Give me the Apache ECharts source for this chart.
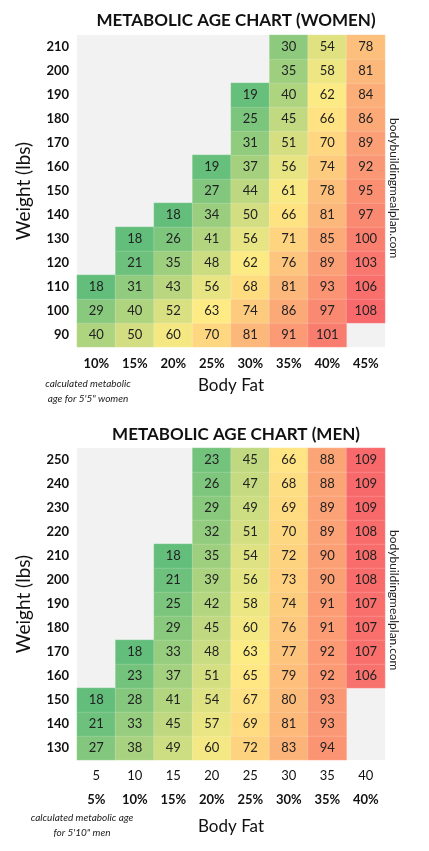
<!DOCTYPE html>
<html><head><meta charset="utf-8">
<script src="https://cdn.jsdelivr.net/npm/echarts@6/dist/echarts.min.js"></script>
<style>html,body{margin:0;padding:0;background:#fff}#chart{width:429px;height:851px}</style>
</head><body><div id="chart"></div>
<script>
// women chart
var womenX = ['10%', '15%', '20%', '25%', '30%', '35%', '40%', '45%'];
var womenY = ['90', '100', '110', '120', '130', '140', '150', '160', '170', '180', '190', '200', '210'];
var womenRows = [ // bottom (90) to top (210)
	[40, 50, 60, 70, 81, 91, 101, null],
	[29, 40, 52, 63, 74, 86, 97, 108],
	[18, 31, 43, 56, 68, 81, 93, 106],
	[null, 21, 35, 48, 62, 76, 89, 103],
	[null, 18, 26, 41, 56, 71, 85, 100],
	[null, null, 18, 34, 50, 66, 81, 97],
	[null, null, null, 27, 44, 61, 78, 95],
	[null, null, null, 19, 37, 56, 74, 92],
	[null, null, null, null, 31, 51, 70, 89],
	[null, null, null, null, 25, 45, 66, 86],
	[null, null, null, null, 19, 40, 62, 84],
	[null, null, null, null, null, 35, 58, 81],
	[null, null, null, null, null, 30, 54, 78]
];
// men chart
var menX = ['5', '10', '15', '20', '25', '30', '35', '40'];
var menY = ['130', '140', '150', '160', '170', '180', '190', '200', '210', '220', '230', '240', '250'];
var menRows = [ // bottom (130) to top (250)
	[27, 38, 49, 60, 72, 83, 94, null],
	[21, 33, 45, 57, 69, 81, 93, null],
	[18, 28, 41, 54, 67, 80, 93, null],
	[null, 23, 37, 51, 65, 79, 92, 106],
	[null, 18, 33, 48, 63, 77, 92, 107],
	[null, null, 29, 45, 60, 76, 91, 107],
	[null, null, 25, 42, 58, 74, 91, 107],
	[null, null, 21, 39, 56, 73, 90, 108],
	[null, null, 18, 35, 54, 72, 90, 108],
	[null, null, null, 32, 51, 70, 89, 108],
	[null, null, null, 29, 49, 69, 89, 109],
	[null, null, null, 26, 47, 68, 88, 109],
	[null, null, null, 23, 45, 66, 88, 109]
];

function toCells(rows) {
	var out = [];
	rows.forEach(function(r, y) {
		r.forEach(function(v, x) {
			if (v !== null) out.push([x, y, v]);
		});
	});
	return out;
}

var FONT = 'Lato';
var chart = echarts.init(document.getElementById('chart'));
var yAxisBase = {
	type: 'category',
	axisLine: { show: false },
	axisTick: { show: false },
	axisLabel: { fontFamily: FONT, fontWeight: 'bold', fontSize: 13, color: '#111', margin: 8, interval: 0 },
	name: 'Weight (lbs)',
	nameLocation: 'middle',
	nameRotate: 90,
	nameGap: 44,
	nameTextStyle: { fontFamily: FONT, fontSize: 19, color: '#111' }
};
var xAxisBase = {
	type: 'category',
	position: 'bottom',
	axisLine: { show: false },
	axisTick: { show: false },
	name: 'Body Fat',
	nameLocation: 'middle',
	nameTextStyle: { fontFamily: FONT, fontSize: 17, color: '#111' }
};
var cellLabel = { show: true, fontFamily: FONT, fontSize: 13, color: '#222' };
var colors = ['#63be7b', '#ffeb84', '#f8696b'];

var option = {
	title: [
		{ text: 'METABOLIC AGE CHART (WOMEN)', left: 231, top: 7, textAlign: 'center',
			textStyle: { fontFamily: FONT, fontWeight: 'bold', fontSize: 17, color: '#111' } },
		{ text: 'METABOLIC AGE CHART (MEN)', left: 231, top: 421, textAlign: 'center',
			textStyle: { fontFamily: FONT, fontWeight: 'bold', fontSize: 17, color: '#111' } }
	],
	grid: [
		{ left: 77, top: 35, width: 308, height: 312, show: true, backgroundColor: '#f2f2f2', borderWidth: 0 },
		{ left: 77, top: 448, width: 308, height: 312, show: true, backgroundColor: '#f2f2f2', borderWidth: 0 }
	],
	xAxis: [
		Object.assign({}, xAxisBase, { gridIndex: 0, data: womenX, nameGap: 30,
			axisLabel: { fontFamily: FONT, fontWeight: 'bold', fontSize: 13, color: '#111', margin: 10, interval: 0 } }),
		Object.assign({}, xAxisBase, { gridIndex: 1, data: menX, nameGap: 58,
			axisLabel: { fontFamily: FONT, fontSize: 13, color: '#111', margin: 4, lineHeight: 24, interval: 0,
				formatter: function(v) { return v + '\n{b|' + v + '%}'; },
				rich: { b: { fontFamily: FONT, fontWeight: 'bold', fontSize: 13, color: '#111', lineHeight: 24 } } } })
	],
	yAxis: [
		Object.assign({}, yAxisBase, { gridIndex: 0, data: womenY }),
		Object.assign({}, yAxisBase, { gridIndex: 1, data: menY })
	],
	visualMap: [
		{ show: false, seriesIndex: 0, min: 18, max: 108, inRange: { color: colors } },
		{ show: false, seriesIndex: 1, min: 18, max: 109, inRange: { color: colors } }
	],
	series: [
		{ type: 'heatmap', xAxisIndex: 0, yAxisIndex: 0, data: toCells(womenRows), label: cellLabel,
			itemStyle: { borderColor: 'rgba(255,255,255,0.35)', borderWidth: 0.5 } },
		{ type: 'heatmap', xAxisIndex: 1, yAxisIndex: 1, data: toCells(menRows), label: cellLabel,
			itemStyle: { borderColor: 'rgba(255,255,255,0.35)', borderWidth: 0.5 } }
	],
	graphic: [
		{ type: 'text', x: 88, y: 376, style: { text: 'calculated metabolic\nage for 5\'5" women',
			font: 'italic 10px Lato', fill: '#222', lineHeight: 15, align: 'center' } },
		{ type: 'text', x: 82, y: 810, style: { text: 'calculated metabolic age\nfor 5\'10" men',
			font: 'italic 10px Lato', fill: '#222', lineHeight: 15, align: 'center' } },
		{ type: 'text', x: 400, y: 118, rotation: -Math.PI / 2, style: { text: 'bodybuildingmealplan.com',
			font: '12px Lato', fill: '#222' } },
		{ type: 'text', x: 400, y: 530, rotation: -Math.PI / 2, style: { text: 'bodybuildingmealplan.com',
			font: '12px Lato', fill: '#222' } }
	]
};
chart.setOption(option);
</script>
</body></html>
